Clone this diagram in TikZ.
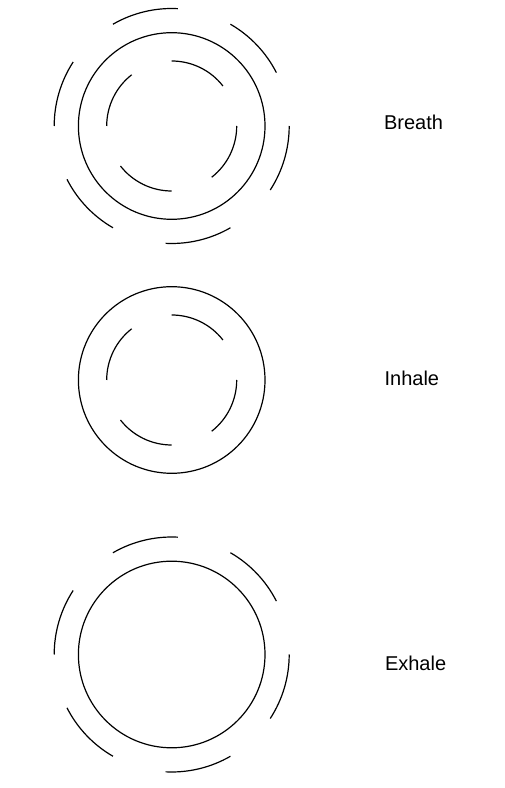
\documentclass[tikz,border=0pt]{standalone}
\usepackage{fontspec}
\setmainfont{Liberation Sans}
\begin{document}
\begin{tikzpicture}[x=1pt,y=1pt,line width=1.2pt]
    \useasboundingbox (0,0) rectangle (504,788);
    % 圆心
    \coordinate (breathC) at (171.7,662);
    \coordinate (inhaleC) at (171.7,408);
    \coordinate (exhaleC) at (171.7,133.5);

% 大圆
\foreach \cc in {breathC,inhaleC,exhaleC}
    \draw[black] (\cc) circle[radius=93.3pt];
% 内弧
\foreach \cc in {breathC,inhaleC}
    \foreach \a in {38,128,218,308}
        \draw[black] ([shift={(\a:65pt)}]\cc) arc[start angle=\a, delta angle=52, radius=65pt];
% 外弧
\foreach \cc in {breathC,exhaleC}
    \foreach \a in {27,87,147,207,267,327}
        \draw[black] ([shift={(\a:117.5pt)}]\cc) arc[start angle=\a, delta angle=33, radius=117.5pt];

\node[anchor=base west, inner sep=0pt, font=\fontsize{20}{24}\selectfont] (breath) at (383.5,658.7) {Breath};
\node[anchor=base west, inner sep=0pt, font=\fontsize{20}{24}\selectfont] (inhale) at (384,402) {Inhale};
\node[anchor=base west, inner sep=0pt, font=\fontsize{20}{24}\selectfont] (exhale) at (384.4,117) {Exhale};
\end{tikzpicture}
\end{document}
